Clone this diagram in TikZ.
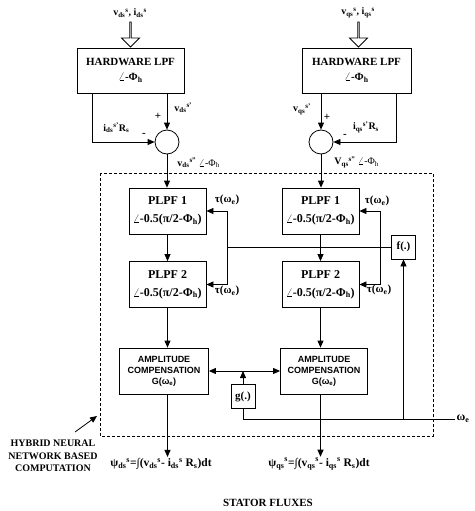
\documentclass[tikz,border=0pt]{standalone}
\usepackage{fontspec}
\setmainfont{Liberation Serif}
\newfontfamily\arialfont{Liberation Sans}
\usetikzlibrary{arrows.meta,shapes.arrows}
\newcommand{\lo}[1]{\textsubscript{#1}}
\newcommand{\hi}[1]{\textsuperscript{#1}}
\newcommand{\ang}{$\angle$}
\tikzset{
  hwbox/.style={draw, minimum height=45pt, align=center, font=\bfseries\fontsize{11}{15}\selectfont},
  plpfbox/.style={draw, minimum width=77pt, minimum height=46pt, align=center, font=\bfseries\fontsize{12}{18}\selectfont},
  acbox/.style={draw, minimum height=46pt, align=center, font=\arialfont\bfseries\fontsize{9}{11}\selectfont},
  fnbox/.style={draw, minimum size=24pt, inner sep=1pt, font=\bfseries\fontsize{11}{13}\selectfont},
  sumnode/.style={draw, circle, minimum size=24pt, inner sep=0pt},
  hollow/.style={draw, single arrow, shape border rotate=270, minimum height=25pt, minimum width=18pt,
    single arrow head extend=4pt, inner sep=0pt, line width=0.8pt},
  lbl/.style={inner sep=1pt}
}
\begin{document}
\begin{tikzpicture}[x=1pt,y=-1pt, line width=0.8pt, >={Triangle[length=7pt,width=6pt]},
  font=\bfseries\fontsize{10}{12}\selectfont]
\useasboundingbox (0,0) rectangle (474,511);

% hardware filters
\node[hwbox, minimum width=107pt] (hwd) at (130.5,70.5) {HARDWARE LPF\\\ang-Φ\lo{h}};
\node[hwbox, minimum width=109pt] (hwq) at (356.5,70.5) {HARDWARE LPF\\\ang-Φ\lo{h}};
\node[hollow, anchor=tip] (ind) at (hwd.north) {};
\node[hollow, anchor=tip] (inq) at ([xshift=2pt]hwq.north) {};
\node[lbl] (ind lbl) at (130,13) {v\lo{ds}\hi{s}, i\lo{ds}\hi{s}};
\node[lbl] (inq lbl) at (358,13) {v\lo{qs}\hi{s}, i\lo{qs}\hi{s}};

% summing points
\node[sumnode] (sumd) at (167,142) {};
\node[sumnode] (sumq) at (321,142) {};
\draw[->] (sumd |- hwd.south) -- (sumd.north);
\draw[->] ([xshift=16pt]hwd.south west) |- (sumd.west);
\draw[->] (sumq |- hwq.south) -- (sumq.north);
\draw[->] ([xshift=-15pt]hwq.south east) |- (sumq.east);
\node[lbl, anchor=west] at (173,108) {v\lo{ds}\hi{s'}};
\node[lbl, font=\bfseries\fontsize{11}{13}\selectfont] at (158,116) {+};
\node[lbl, anchor=west] at (102,128) {i\lo{ds}\hi{s'}R\lo{s}};
\node[lbl, font=\bfseries\fontsize{11}{13}\selectfont] at (144,135) {-};
\node[lbl, anchor=west] at (176,163) {v\lo{ds}\hi{s''} \mdseries\ang-Φ\lo{h}};
\node[lbl] at (302,109) {v\lo{qs}\hi{s'}};
\node[lbl, font=\bfseries\fontsize{11}{13}\selectfont] at (327,117) {+};
\node[lbl] at (366,127) {i\lo{qs}\hi{s'}R\lo{s}};
\node[lbl, font=\bfseries\fontsize{11}{13}\selectfont] at (345,136) {-};
\node[lbl, anchor=west] at (333,162) {V\lo{qs}\hi{s''} \mdseries\ang-Φ\lo{h}};

% neural network part
\draw[dash pattern=on 3pt off 2pt, line width=0.7pt] (100,173) rectangle (433,436);

\node[plpfbox] (p1d) at (167.5,211) {PLPF 1\\\ang-0.5(π/2-Φ\lo{h})};
\node[plpfbox] (p2d) at (167.5,284.5) {PLPF 2\\\ang-0.5(π/2-Φ\lo{h})};
\node[plpfbox] (p1q) at (320.5,211) {PLPF 1\\\ang-0.5(π/2-Φ\lo{h})};
\node[plpfbox] (p2q) at (320.5,284.5) {PLPF 2\\\ang-0.5(π/2-Φ\lo{h})};
\node[acbox, minimum width=89pt] (acd) at (164,371) {AMPLITUDE\\COMPENSATION\\G(ω\lo{e})};
\node[acbox, minimum width=87pt] (acq) at (324,371) {AMPLITUDE\\COMPENSATION\\G(ω\lo{e})};
\node[fnbox] (fbox) at (403.5,247) {f(.)};
\node[fnbox] (gbox) at (243,396.5) {g(.)};

\draw[->] (sumd.south) -- (sumd |- p1d.north);
\draw[->] (p1d.south) -- (p2d.north);
\draw[->] (sumq.south) -- (sumq |- p1q.north);
\draw[->] (p1q.south) -- (p2q.north);
\draw[->] (p2d.south) -- (p2d.south |- acd.north);
\draw[->] (p2q.south) -- (p2q.south |- acq.north);

\coordinate (jd) at (227,247);
\coordinate (jq) at (380,247);
\draw[->] (jd) |- (p1d.east);
\draw[->] (jd) |- (p2d.east);
\draw[->] (jq) |- (p1q.east);
\draw[->] (jq) |- (p2q.east);
\draw (jd) -- (fbox.west);
\node[lbl, font=\bfseries\fontsize{11}{13}\selectfont] at (227,200) {τ(ω\lo{e})};
\node[lbl, font=\bfseries\fontsize{11}{13}\selectfont] at (227,291) {τ(ω\lo{e})};
\node[lbl, font=\bfseries\fontsize{11}{13}\selectfont] at (377,201) {τ(ω\lo{e})};
\node[lbl, font=\bfseries\fontsize{11}{13}\selectfont] at (379,290) {τ(ω\lo{e})};

\node[lbl, font=\bfseries\fontsize{12}{14}\selectfont] (wlab) at (463,419) {ω\lo{e}};
\draw (wlab.west) -| (gbox.south);
\draw[->] (fbox |- wlab.west) -- (fbox.south);
\draw[<->] (acd.east) -- (acq.west);
\draw[->] (gbox.north) -- (gbox |- acd.east);

% outputs
\node[lbl, font=\bfseries\fontsize{11.5}{13}\selectfont] (psid) at (161,464) {ψ\lo{ds}\hi{s}=∫(v\lo{ds}\hi{s}- i\lo{ds}\hi{s} R\lo{s})dt};
\node[lbl, font=\bfseries\fontsize{11.5}{13}\selectfont] (psiq) at (319,464) {ψ\lo{qs}\hi{s}=∫(v\lo{qs}\hi{s}- i\lo{qs}\hi{s} R\lo{s})dt};
\draw[->] (p2d.south |- acd.south) -- (p2d.south |- psid.north);
\draw[->] (p2q.south |- acq.south) -- (p2q.south |- psiq.north);

\node[lbl, align=center, font=\bfseries\fontsize{10}{12.5}\selectfont] (hybrid) at (53,456)
  {HYBRID NEURAL\\NETWORK BASED\\COMPUTATION};
\coordinate (hybtail) at (75,432);
\coordinate (hybtip) at (97,416);
\draw[->] (hybtail) -- (hybtip);
\node[lbl, font=\bfseries\fontsize{11}{13}\selectfont] (fluxes) at (268,503) {STATOR FLUXES};
\end{tikzpicture}
\end{document}
